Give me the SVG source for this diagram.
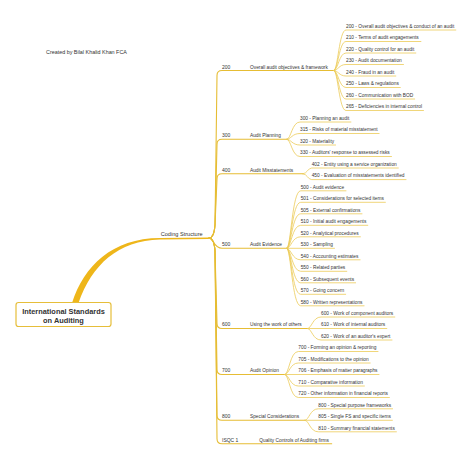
<svg xmlns="http://www.w3.org/2000/svg" width="474" height="466" viewBox="0 0 474 466">
<style>
text{font-family:"Liberation Sans",Arial,sans-serif;fill:#333;}
.l{font-size:4.8px;}
.b{font-size:4.8px;}
.n{font-size:5px;}
.br{fill:none;stroke:#E6BD34;stroke-width:1.1;stroke-linecap:round;stroke-linejoin:round;}
.lf{fill:none;stroke:#ECCB58;stroke-width:0.8;stroke-linecap:round;}
</style>
<rect width="474" height="466" fill="#fff"/>
<text x="46" y="54" style="font-size:5.4px">Created by Bilal Khalid Khan FCA</text>
<g id="connectors">
<path d="M72,303 C84,266 112,238.3 160,238 L209,237.6 L209,239 L160,239.6 C118,240.5 92,265 78.5,303 Z" fill="#EEB61A"/>
<path class="br" d="M209,238 C213,238 214.5,232 215,225 L217,75.5 Q217,70.5 222,70.5 L334,70.5"/>
<path class="br" d="M209,238 C213,238 214.5,232 215,225 L217,144.25 Q217,139.25 222,139.25 L287,139.25"/>
<path class="br" d="M209,238 C213,238 214.5,232 215,225 L217,178.8 Q217,173.8 222,173.8 L303,173.8"/>
<path class="br" d="M209,238 C213,238 214,248.3 222,248.3 L287,248.3"/>
<path class="br" d="M209,238 C213,238 214.5,244 215,251 L217,323.5 Q217,328.5 222,328.5 L307.7,328.5"/>
<path class="br" d="M209,238 C213,238 214.5,244 215,251 L217,369.5 Q217,374.5 222,374.5 L285,374.5"/>
<path class="br" d="M209,238 C213,238 214.5,244 215,251 L217,415.3 Q217,420.3 222,420.3 L305,420.3"/>
<path class="br" d="M209,238 C213,238 214.5,244 215,251 L217,438.7 Q217,443.7 222,443.7 L331.7,443.7"/>
<!-- 200 leaves -->
<path class="lf" d="M334,70.5 C338,70.5 339,30 346,30 L455.8,30"/>
<path class="lf" d="M334,70.5 C338,70.5 339,41.5 346,41.5 L420.9,41.5"/>
<path class="lf" d="M334,70.5 C338,70.5 339,53 346,53 L415.8,53"/>
<path class="lf" d="M334,70.5 C338,70.5 339,64.5 346,64.5 L403.5,64.5"/>
<path class="lf" d="M334,70.5 C338,70.5 339,76 346,76 L395.8,76"/>
<path class="lf" d="M334,70.5 C338,70.5 339,87.5 346,87.5 L400.3,87.5"/>
<path class="lf" d="M334,70.5 C338,70.5 339,99 346,99 L414.7,99"/>
<path class="lf" d="M334,70.5 C338,70.5 339,110.5 346,110.5 L423.5,110.5"/>
<!-- 300 leaves -->
<path class="lf" d="M287,139.25 C291,139.25 292,122 300,122 L350.9,122"/>
<path class="lf" d="M287,139.25 C291,139.25 292,133.5 300,133.5 L379.1,133.5"/>
<path class="lf" d="M287,139.25 C291,139.25 292,145 300,145 L335.6,145"/>
<path class="lf" d="M287,139.25 C291,139.25 292,156.5 300,156.5 L391.5,156.5"/>
<!-- 400 leaves -->
<path class="lf" d="M303,173.8 C307,173.8 308,168 311.7,168 L398.3,168"/>
<path class="lf" d="M303,173.8 C307,173.8 308,179.6 311.7,179.6 L406,179.6"/>
<!-- 500 leaves -->
<path class="lf" d="M287,248.3 C291,248.3 292,190.8 300.7,190.8 L346,190.8"/>
<path class="lf" d="M287,248.3 C291,248.3 292,202.3 300.7,202.3 L385.4,202.3"/>
<path class="lf" d="M287,248.3 C291,248.3 292,213.8 300.7,213.8 L362,213.8"/>
<path class="lf" d="M287,248.3 C291,248.3 292,225.3 300.7,225.3 L367.8,225.3"/>
<path class="lf" d="M287,248.3 C291,248.3 292,236.8 300.7,236.8 L360.4,236.8"/>
<path class="lf" d="M287,248.3 L334.5,248.3"/>
<path class="lf" d="M287,248.3 C291,248.3 292,259.8 300.7,259.8 L360.1,259.8"/>
<path class="lf" d="M287,248.3 C291,248.3 292,271.3 300.7,271.3 L346.8,271.3"/>
<path class="lf" d="M287,248.3 C291,248.3 292,282.8 300.7,282.8 L355.6,282.8"/>
<path class="lf" d="M287,248.3 C291,248.3 292,294.3 300.7,294.3 L345.7,294.3"/>
<path class="lf" d="M287,248.3 C291,248.3 292,305.8 300.7,305.8 L364.1,305.8"/>
<!-- 600 leaves -->
<path class="lf" d="M307.7,328.5 C311.7,328.5 312.7,317 321,317 L394.8,317"/>
<path class="lf" d="M307.7,328.5 L386.8,328.5"/>
<path class="lf" d="M307.7,328.5 C311.7,328.5 312.7,340 321,340 L392,340"/>
<!-- 700 leaves -->
<path class="lf" d="M285,374.5 C289,374.5 290,351.5 298.3,351.5 L378,351.5"/>
<path class="lf" d="M285,374.5 C289,374.5 290,363 298.3,363 L370.2,363"/>
<path class="lf" d="M285,374.5 L379,374.5"/>
<path class="lf" d="M285,374.5 C289,374.5 290,386 298.3,386 L364.4,386"/>
<path class="lf" d="M285,374.5 C289,374.5 290,397.5 298.3,397.5 L389.4,397.5"/>
<!-- 800 leaves -->
<path class="lf" d="M305,420.3 C309,420.3 310,408.8 318.3,408.8 L392.6,408.8"/>
<path class="lf" d="M305,420.3 L392.4,420.3"/>
<path class="lf" d="M305,420.3 C309,420.3 310,431.8 318.3,431.8 L396.4,431.8"/>
</g>
<g id="root">
<rect x="16" y="302.5" width="95" height="24" rx="2.5" fill="#fff" stroke="#E6BE3A" stroke-width="1.2"/>
<text x="63.5" y="313.5" text-anchor="middle" style="font-size:7.4px;font-weight:bold">International Standards</text>
<text x="63.5" y="322.5" text-anchor="middle" style="font-size:7.4px;font-weight:bold">on Auditing</text>
</g>
<g id="coding-structure"><text x="160.7" y="235.6" style="font-size:5.6px">Coding Structure</text></g>
<g id="b200"><text class="n" x="222" y="68.5">200</text><text class="b" x="250" y="68.5">Overall audit objectives &amp; framework</text></g>
<g id="b300"><text class="n" x="222" y="137">300</text><text class="b" x="250" y="137">Audit Planning</text></g>
<g id="b400"><text class="n" x="222" y="171.6">400</text><text class="b" x="250" y="171.6">Audit Misstatements</text></g>
<g id="b500"><text class="n" x="222" y="246.1">500</text><text class="b" x="250" y="246.1">Audit Evidence</text></g>
<g id="b600"><text class="n" x="222" y="326.3">600</text><text class="b" x="250" y="326.3">Using the work of others</text></g>
<g id="b700"><text class="n" x="222" y="372.3">700</text><text class="b" x="250" y="372.3">Audit Opinion</text></g>
<g id="b800"><text class="n" x="222" y="418.1">800</text><text class="b" x="250" y="418.1">Special Considerations</text></g>
<g id="bISQC"><text class="n" x="222" y="441.5">ISQC 1</text><text class="b" x="259.3" y="441.5">Quality Controls of Auditing firms</text></g>
<g id="l200">
<text class="l" x="346" y="27.7">200 - Overall audit objectives &amp; conduct of an audit</text>
<text class="l" x="346" y="39.2">210 - Terms of audit engagements</text>
<text class="l" x="346" y="50.7">220 - Quality control for an audit</text>
<text class="l" x="346" y="62.2">230 - Audit documentation</text>
<text class="l" x="346" y="73.7">240 - Fraud in an audit</text>
<text class="l" x="346" y="85.2">250 - Laws &amp; regulations</text>
<text class="l" x="346" y="96.7">260 - Communication with BOD</text>
<text class="l" x="346" y="108.2">265 - Deficiencies in internal control</text>
</g>
<g id="l300">
<text class="l" x="300" y="119.7">300 - Planning an audit</text>
<text class="l" x="300" y="131.2">315 - Risks of material misstatement</text>
<text class="l" x="300" y="142.7">320 - Materiality</text>
<text class="l" x="300" y="154.2">330 - Auditors' response to assessed risks</text>
</g>
<g id="l400">
<text class="l" x="311.7" y="165.7">402 - Entity using a service organization</text>
<text class="l" x="311.7" y="177.3">450 - Evaluation of misstatements identified</text>
</g>
<g id="l500">
<text class="l" x="300.7" y="188.5">500 - Audit evidence</text>
<text class="l" x="300.7" y="200">501 - Considerations for selected items</text>
<text class="l" x="300.7" y="211.5">505 - External confirmations</text>
<text class="l" x="300.7" y="223">510 - Initial audit engagements</text>
<text class="l" x="300.7" y="234.5">520 - Analytical procedures</text>
<text class="l" x="300.7" y="246">530 - Sampling</text>
<text class="l" x="300.7" y="257.5">540 - Accounting estimates</text>
<text class="l" x="300.7" y="269">550 - Related parties</text>
<text class="l" x="300.7" y="280.5">560 - Subsequent events</text>
<text class="l" x="300.7" y="292">570 - Going concern</text>
<text class="l" x="300.7" y="303.5">580 - Written representations</text>
</g>
<g id="l600">
<text class="l" x="321" y="314.7">600 - Work of component auditors</text>
<text class="l" x="321" y="326.2">610 - Work of internal auditors</text>
<text class="l" x="321" y="337.7">620 - Work of an auditor's expert</text>
</g>
<g id="l700">
<text class="l" x="298.3" y="349.2">700 - Forming an opinion &amp; reporting</text>
<text class="l" x="298.3" y="360.7">705 - Modifications to the opinion</text>
<text class="l" x="298.3" y="372.2">706 - Emphasis of matter paragraphs</text>
<text class="l" x="298.3" y="383.7">710 - Comparative information</text>
<text class="l" x="298.3" y="395.2">720 - Other information in financial reports</text>
</g>
<g id="l800">
<text class="l" x="318.3" y="406.5">800 - Special purpose frameworks</text>
<text class="l" x="318.3" y="418">805 - Single FS and specific items</text>
<text class="l" x="318.3" y="429.5">810 - Summary financial statements</text>
</g>
</svg>
